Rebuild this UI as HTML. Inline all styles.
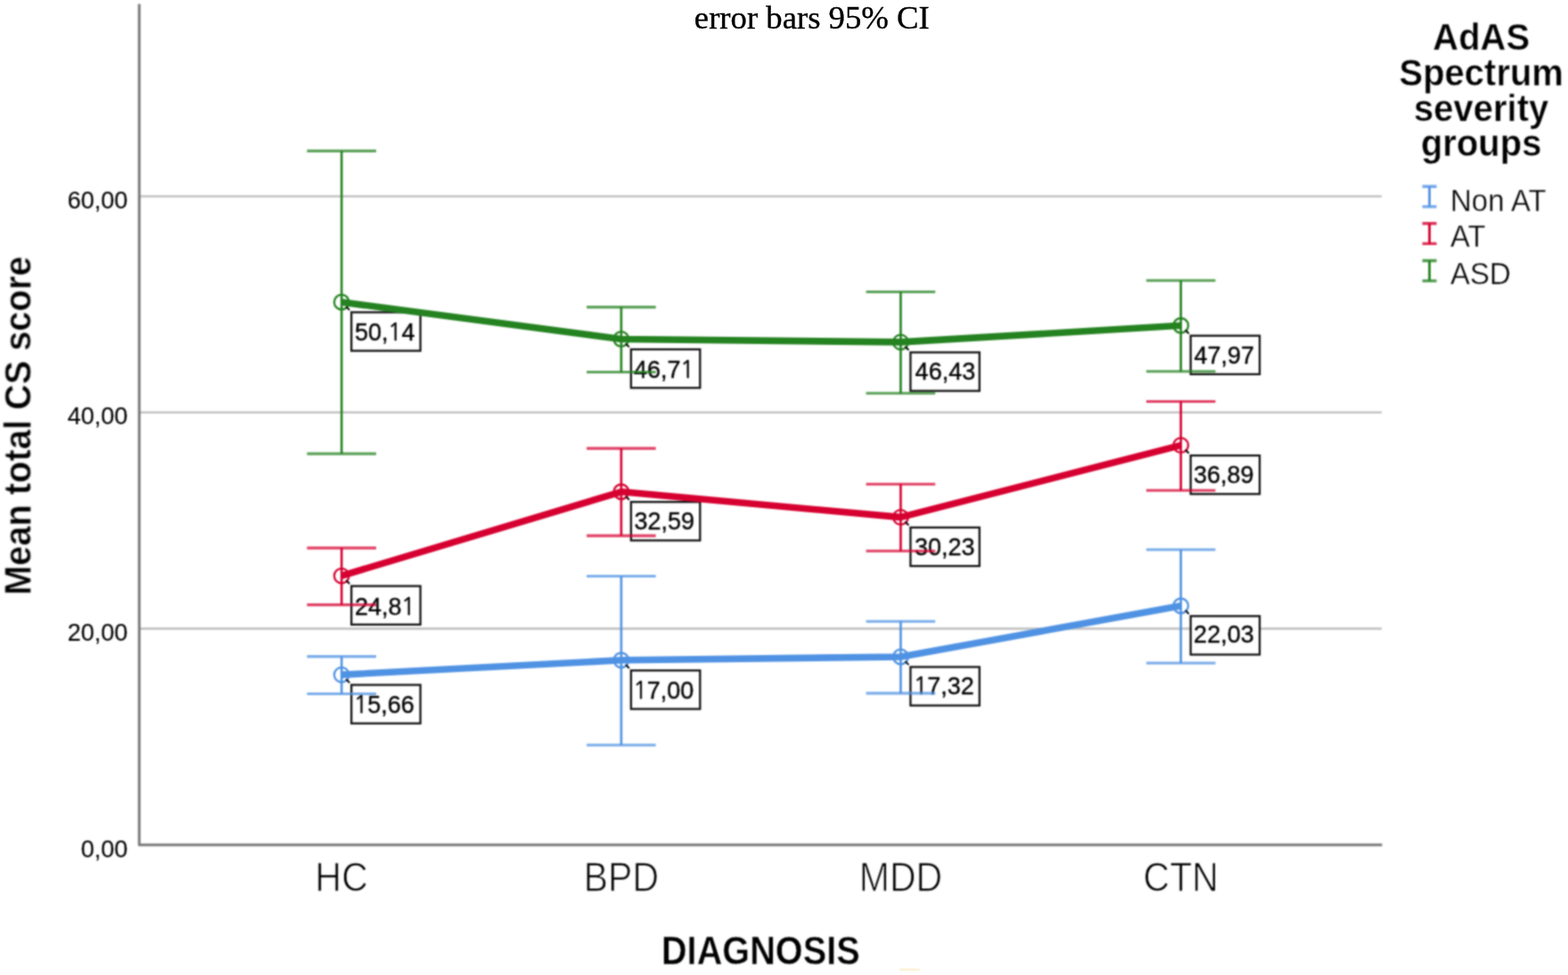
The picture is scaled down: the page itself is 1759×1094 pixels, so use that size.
<!DOCTYPE html>
<html><head><meta charset="utf-8"><title>Mean total CS score by diagnosis</title>
<style>
html,body{margin:0;padding:0;background:#fff;}
body{width:1759px;height:1094px;overflow:hidden;}
svg{display:block;}
text{font-family:"Liberation Sans",Arial,sans-serif;fill:#000;}
.t{font-family:"Liberation Serif","Times New Roman",serif;stroke:#000;stroke-width:0.35px;}
.one{font-family:NanumGothic,"Liberation Sans",sans-serif;}
.lab{font-size:27px;stroke:#000;stroke-width:0.35px;}
.tick{font-size:27px;stroke:#000;stroke-width:0.15px;}
.cat{font-size:41px;stroke:#fff;stroke-width:0.9px;}
.bt{font-weight:bold;stroke:#fff;stroke-width:0.45px;}
.leg{font-size:33px;stroke:#fff;stroke-width:0.4px;}
</style></head><body>
<svg width="1759" height="1094" viewBox="0 0 1759 1094">
<rect x="0" y="0" width="1759" height="1094" fill="#fff"/>
<defs><filter id="bl" filterUnits="userSpaceOnUse" x="0" y="0" width="1759" height="1094" color-interpolation-filters="sRGB"><feConvolveMatrix order="5" kernelMatrix="0.00087 0.00695 0.01388 0.00695 0.00087 0.00695 0.05540 0.11068 0.05540 0.00695 0.01388 0.11068 0.22111 0.11068 0.01388 0.00695 0.05540 0.11068 0.05540 0.00695 0.00087 0.00695 0.01388 0.00695 0.00087" divisor="1"/></filter></defs>
<text class="t" x="910.8" y="31.6" font-size="36.7" text-anchor="middle">error bars 95% CI</text>
<g filter="url(#bl)">
<line x1="157" y1="705.4" x2="1550" y2="705.4" stroke="#c4c4c4" stroke-width="2.6"/>
<line x1="157" y1="462.8" x2="1550" y2="462.8" stroke="#c4c4c4" stroke-width="2.6"/>
<line x1="157" y1="220.3" x2="1550" y2="220.3" stroke="#c4c4c4" stroke-width="2.6"/>
<polyline points="156.2,4.5 156.2,947.9 1550.5,947.9" fill="none" stroke="#7a7a7a" stroke-width="3" stroke-linejoin="round"/>
<text class="tick" transform="translate(143.3,961.5) scale(1,1.03)" text-anchor="end">0,00</text>
<text class="tick" transform="translate(143.3,719.0) scale(1,1.03)" text-anchor="end">20,00</text>
<text class="tick" transform="translate(143.3,476.4) scale(1,1.03)" text-anchor="end">40,00</text>
<text class="tick" transform="translate(143.3,233.9) scale(1,1.03)" text-anchor="end">60,00</text>
<text class="cat" transform="translate(383.2,999.6) scale(1,1.11)" text-anchor="middle">HC</text>
<text class="cat" transform="translate(696.9,999.6) scale(1,1.11)" text-anchor="middle">BPD</text>
<text class="cat" transform="translate(1010.4,999.6) scale(1,1.11)" text-anchor="middle">MDD</text>
<text class="cat" transform="translate(1324.7,999.6) scale(1,1.11)" text-anchor="middle">CTN</text>
<text class="bt" transform="translate(853.3,1081.7) scale(1,1.10)" font-size="39.7" text-anchor="middle">DIAGNOSIS</text>
<text class="bt" transform="translate(34.5,477.7) rotate(-90) scale(1,1.08)" font-size="39.8" text-anchor="middle">Mean total CS score</text>
<rect x="394.2" y="768.5" width="77.4" height="43.2" fill="#fff" stroke="#111" stroke-width="2.3"/>
<rect x="707.9" y="752.3" width="77.4" height="43.2" fill="#fff" stroke="#111" stroke-width="2.3"/>
<rect x="1021.4" y="748.4" width="77.4" height="43.2" fill="#fff" stroke="#111" stroke-width="2.3"/>
<rect x="1335.7" y="691.3" width="77.4" height="43.2" fill="#fff" stroke="#111" stroke-width="2.3"/>
<rect x="394.2" y="657.6" width="77.4" height="43.2" fill="#fff" stroke="#111" stroke-width="2.3"/>
<rect x="707.9" y="563.2" width="77.4" height="43.2" fill="#fff" stroke="#111" stroke-width="2.3"/>
<rect x="1021.4" y="591.9" width="77.4" height="43.2" fill="#fff" stroke="#111" stroke-width="2.3"/>
<rect x="1335.7" y="511.1" width="77.4" height="43.2" fill="#fff" stroke="#111" stroke-width="2.3"/>
<rect x="394.2" y="350.4" width="77.4" height="43.2" fill="#fff" stroke="#111" stroke-width="2.3"/>
<rect x="707.9" y="392.0" width="77.4" height="43.2" fill="#fff" stroke="#111" stroke-width="2.3"/>
<rect x="1021.4" y="395.4" width="77.4" height="43.2" fill="#fff" stroke="#111" stroke-width="2.3"/>
<rect x="1335.7" y="376.7" width="77.4" height="43.2" fill="#fff" stroke="#111" stroke-width="2.3"/>
<text class="lab" x="431.3" y="799.5" text-anchor="middle"><tspan class="one" dx="-0.68">1</tspan><tspan dx="-0.68">5</tspan>,66</text>
<text class="lab" x="744.8" y="784.4" text-anchor="middle"><tspan class="one" dx="-0.68">1</tspan><tspan dx="-0.68">7</tspan>,00</text>
<text class="lab" x="1059.3" y="779.2" text-anchor="middle"><tspan class="one" dx="-0.68">1</tspan><tspan dx="-0.68">7</tspan>,32</text>
<text class="lab" x="1372.9" y="720.8" text-anchor="middle">22,03</text>
<text class="lab" x="432.1" y="689.7" text-anchor="middle">24,8<tspan class="one" dx="-0.68">1</tspan></text>
<text class="lab" x="745.3" y="594.0" text-anchor="middle">32,59</text>
<text class="lab" x="1059.8" y="623.3" text-anchor="middle">30,23</text>
<text class="lab" x="1372.7" y="541.5" text-anchor="middle">36,89</text>
<text class="lab" x="431.8" y="381.7" text-anchor="middle">50,<tspan class="one" dx="-0.68">1</tspan><tspan dx="-0.68">4</tspan></text>
<text class="lab" x="745.1" y="424.1" text-anchor="middle">46,7<tspan class="one" dx="-0.68">1</tspan></text>
<text class="lab" x="1060.4" y="425.8" text-anchor="middle">46,43</text>
<text class="lab" x="1373.2" y="408.3" text-anchor="middle">47,97</text>
<path d="M383.2,736.6V778.5" fill="none" stroke="#4f92e3" stroke-width="2.6"/>
<path d="M344.4,736.6H422.0M344.4,778.5H422.0" fill="none" stroke="#4f92e3" stroke-width="3.1" stroke-opacity="0.75"/>
<path d="M696.9,646.5V836.0" fill="none" stroke="#4f92e3" stroke-width="2.6"/>
<path d="M658.1,646.5H735.7M658.1,836.0H735.7" fill="none" stroke="#4f92e3" stroke-width="3.1" stroke-opacity="0.75"/>
<path d="M1010.4,697.3V777.9" fill="none" stroke="#4f92e3" stroke-width="2.6"/>
<path d="M971.6,697.3H1049.2M971.6,777.9H1049.2" fill="none" stroke="#4f92e3" stroke-width="3.1" stroke-opacity="0.75"/>
<path d="M1324.7,616.8V744.0" fill="none" stroke="#4f92e3" stroke-width="2.6"/>
<path d="M1285.9,616.8H1363.5M1285.9,744.0H1363.5" fill="none" stroke="#4f92e3" stroke-width="3.1" stroke-opacity="0.75"/>
<path d="M383.2,614.9V678.6" fill="none" stroke="#d60030" stroke-width="2.6"/>
<path d="M344.4,614.9H422.0M344.4,678.6H422.0" fill="none" stroke="#d60030" stroke-width="3.1" stroke-opacity="0.75"/>
<path d="M696.9,503.1V601.1" fill="none" stroke="#d60030" stroke-width="2.6"/>
<path d="M658.1,503.1H735.7M658.1,601.1H735.7" fill="none" stroke="#d60030" stroke-width="3.1" stroke-opacity="0.75"/>
<path d="M1010.4,543.3V618.3" fill="none" stroke="#d60030" stroke-width="2.6"/>
<path d="M971.6,543.3H1049.2M971.6,618.3H1049.2" fill="none" stroke="#d60030" stroke-width="3.1" stroke-opacity="0.75"/>
<path d="M1324.7,450.5V550.3" fill="none" stroke="#d60030" stroke-width="2.6"/>
<path d="M1285.9,450.5H1363.5M1285.9,550.3H1363.5" fill="none" stroke="#d60030" stroke-width="3.1" stroke-opacity="0.75"/>
<path d="M383.2,169.4V509.1" fill="none" stroke="#248220" stroke-width="2.6"/>
<path d="M344.4,169.4H422.0M344.4,509.1H422.0" fill="none" stroke="#248220" stroke-width="3.1" stroke-opacity="0.75"/>
<path d="M696.9,344.6V417.5" fill="none" stroke="#248220" stroke-width="2.6"/>
<path d="M658.1,344.6H735.7M658.1,417.5H735.7" fill="none" stroke="#248220" stroke-width="3.1" stroke-opacity="0.75"/>
<path d="M1010.4,327.5V441.3" fill="none" stroke="#248220" stroke-width="2.6"/>
<path d="M971.6,327.5H1049.2M971.6,441.3H1049.2" fill="none" stroke="#248220" stroke-width="3.1" stroke-opacity="0.75"/>
<path d="M1324.7,314.7V416.7" fill="none" stroke="#248220" stroke-width="2.6"/>
<path d="M1285.9,314.7H1363.5M1285.9,416.7H1363.5" fill="none" stroke="#248220" stroke-width="3.1" stroke-opacity="0.75"/>
<polyline points="383.2,757.1 696.9,740.8 1010.4,737.0 1324.7,679.8" fill="none" stroke="#4f92e3" stroke-width="7.6" stroke-linejoin="round"/>
<polyline points="383.2,646.1 696.9,551.8 1010.4,580.4 1324.7,499.6" fill="none" stroke="#d60030" stroke-width="7.6" stroke-linejoin="round"/>
<polyline points="383.2,339.0 696.9,380.5 1010.4,383.9 1324.7,365.3" fill="none" stroke="#248220" stroke-width="7.6" stroke-linejoin="round"/>
<circle cx="383.2" cy="757.1" r="8.3" fill="none" stroke="#4f92e3" stroke-width="2.3"/>
<line x1="388.8" y1="762.7" x2="391.6" y2="765.5" stroke="#000" stroke-width="2" stroke-linecap="round"/>
<circle cx="696.9" cy="740.8" r="8.3" fill="none" stroke="#4f92e3" stroke-width="2.3"/>
<line x1="702.5" y1="746.4" x2="705.3" y2="749.2" stroke="#000" stroke-width="2" stroke-linecap="round"/>
<circle cx="1010.4" cy="737.0" r="8.3" fill="none" stroke="#4f92e3" stroke-width="2.3"/>
<line x1="1016.0" y1="742.6" x2="1018.8" y2="745.4" stroke="#000" stroke-width="2" stroke-linecap="round"/>
<circle cx="1324.7" cy="679.8" r="8.3" fill="none" stroke="#4f92e3" stroke-width="2.3"/>
<line x1="1330.3" y1="685.4" x2="1333.1" y2="688.2" stroke="#000" stroke-width="2" stroke-linecap="round"/>
<circle cx="383.2" cy="646.1" r="8.3" fill="none" stroke="#d60030" stroke-width="2.3"/>
<line x1="388.8" y1="651.7" x2="391.6" y2="654.5" stroke="#000" stroke-width="2" stroke-linecap="round"/>
<circle cx="696.9" cy="551.8" r="8.3" fill="none" stroke="#d60030" stroke-width="2.3"/>
<line x1="702.5" y1="557.4" x2="705.3" y2="560.2" stroke="#000" stroke-width="2" stroke-linecap="round"/>
<circle cx="1010.4" cy="580.4" r="8.3" fill="none" stroke="#d60030" stroke-width="2.3"/>
<line x1="1016.0" y1="586.0" x2="1018.8" y2="588.8" stroke="#000" stroke-width="2" stroke-linecap="round"/>
<circle cx="1324.7" cy="499.6" r="8.3" fill="none" stroke="#d60030" stroke-width="2.3"/>
<line x1="1330.3" y1="505.2" x2="1333.1" y2="508.0" stroke="#000" stroke-width="2" stroke-linecap="round"/>
<circle cx="383.2" cy="339.0" r="8.3" fill="none" stroke="#248220" stroke-width="2.3"/>
<line x1="388.8" y1="344.6" x2="391.6" y2="347.4" stroke="#000" stroke-width="2" stroke-linecap="round"/>
<circle cx="696.9" cy="380.5" r="8.3" fill="none" stroke="#248220" stroke-width="2.3"/>
<line x1="702.5" y1="386.1" x2="705.3" y2="388.9" stroke="#000" stroke-width="2" stroke-linecap="round"/>
<circle cx="1010.4" cy="383.9" r="8.3" fill="none" stroke="#248220" stroke-width="2.3"/>
<line x1="1016.0" y1="389.5" x2="1018.8" y2="392.3" stroke="#000" stroke-width="2" stroke-linecap="round"/>
<circle cx="1324.7" cy="365.3" r="8.3" fill="none" stroke="#248220" stroke-width="2.3"/>
<line x1="1330.3" y1="370.9" x2="1333.1" y2="373.7" stroke="#000" stroke-width="2" stroke-linecap="round"/>
<text class="bt" transform="translate(1661.7,56.1) scale(1,1.04)" font-size="40" text-anchor="middle">AdAS</text>
<text class="bt" transform="translate(1661.7,95.6) scale(1,1.04)" font-size="40" text-anchor="middle">Spectrum</text>
<text class="bt" transform="translate(1661.7,135.9) scale(1,1.04)" font-size="40" text-anchor="middle">severity</text>
<text class="bt" transform="translate(1661.7,174.6) scale(1,1.04)" font-size="40" text-anchor="middle">groups</text>
<path d="M1603.6,209.3V231.9" fill="none" stroke="#4f92e3" stroke-width="2.8"/>
<path d="M1595.6,209.3H1611.6M1595.6,231.9H1611.6" fill="none" stroke="#4f92e3" stroke-width="3.4" stroke-opacity="0.8"/>
<text class="leg" transform="translate(1627,236.9) scale(1,1.06)">Non AT</text>
<path d="M1603.6,250.8V273.4" fill="none" stroke="#d60030" stroke-width="2.8"/>
<path d="M1595.6,250.8H1611.6M1595.6,273.4H1611.6" fill="none" stroke="#d60030" stroke-width="3.4" stroke-opacity="0.8"/>
<text class="leg" transform="translate(1627,276.5) scale(1,1.06)">AT</text>
<path d="M1603.6,292.5V315.1" fill="none" stroke="#248220" stroke-width="2.8"/>
<path d="M1595.6,292.5H1611.6M1595.6,315.1H1611.6" fill="none" stroke="#248220" stroke-width="3.4" stroke-opacity="0.8"/>
<text class="leg" transform="translate(1627,319.0) scale(1,1.06)">ASD</text>
<line x1="1009" y1="1088" x2="1032" y2="1088" stroke="#fde9b8" stroke-width="1.5"/>
</g>
</svg>
</body></html>
